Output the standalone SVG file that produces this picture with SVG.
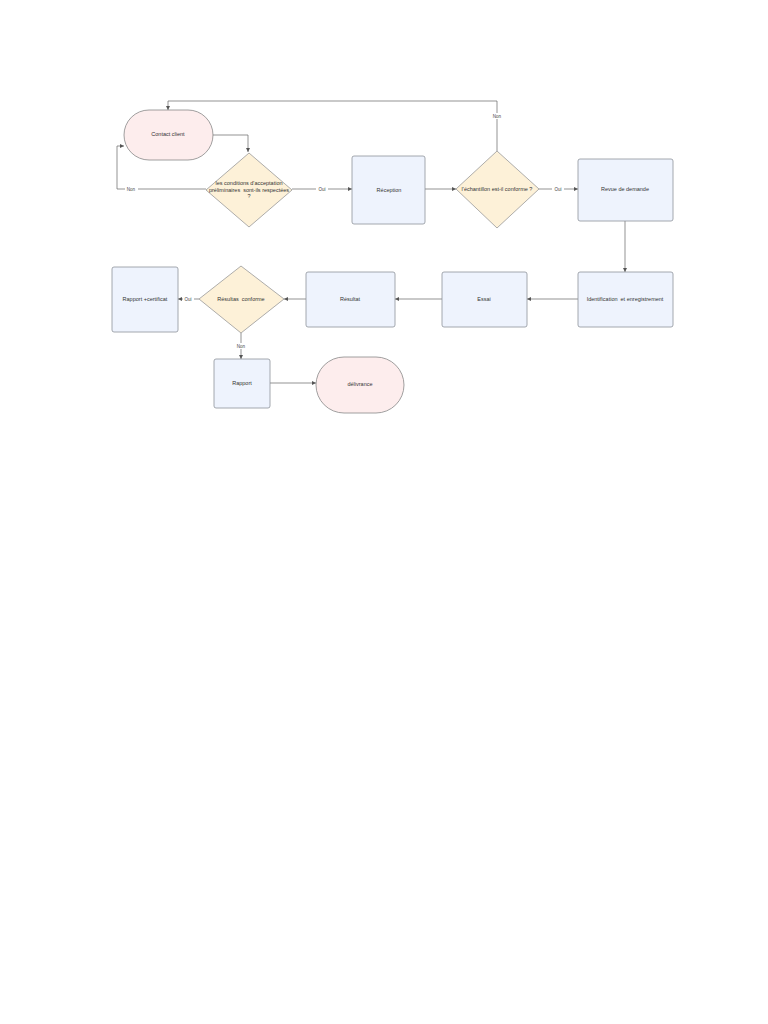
<svg xmlns="http://www.w3.org/2000/svg" width="768" height="1024" viewBox="0 0 768 1024">
<defs>
<marker id="arr" viewBox="0 0 6 6" refX="6" refY="3" markerWidth="4" markerHeight="4" orient="auto" markerUnits="userSpaceOnUse">
<path d="M0,0 L6,3 L0,6 z" fill="#555"/>
</marker>
<style>
.term{fill:#fdeded;stroke:#888;stroke-width:0.8}
.box{fill:#eef3fd;stroke:#8e939a;stroke-width:0.8}
.dia{fill:#fdf1d8;stroke:#999;stroke-width:0.8}
.t{font-family:"Liberation Sans",Arial,sans-serif;font-size:5.5px;fill:#333;text-anchor:middle;dominant-baseline:central;white-space:pre}
.lbl{font-family:"Liberation Sans",Arial,sans-serif;font-size:4.5px;fill:#444;text-anchor:middle;dominant-baseline:central}
.c{fill:none;stroke:#666;stroke-width:0.7}
.bg{fill:#fff}
</style>
</defs>
<rect width="768" height="1024" fill="#fff"/>
<g id="connectors">
<polyline class="c" points="497,151 497,101 168,101 168,110" marker-end="url(#arr)"/>
<rect class="bg" x="490" y="113" width="14" height="6"/>
<text class="lbl" x="497" y="116">Non</text>
<polyline class="c" points="212,135 248,135 248,152" marker-end="url(#arr)"/>
<polyline class="c" points="206,189 117,189 117,146 124,146" marker-end="url(#arr)"/>
<rect class="bg" x="125" y="186" width="13" height="6"/>
<text class="lbl" x="131" y="189">Non</text>
<line class="c" x1="292" y1="189" x2="352" y2="189" marker-end="url(#arr)"/>
<rect class="bg" x="316" y="186" width="12" height="6"/>
<text class="lbl" x="322" y="189">Oui</text>
<line class="c" x1="425" y1="189" x2="456" y2="189" marker-end="url(#arr)"/>
<line class="c" x1="539" y1="189" x2="578" y2="189" marker-end="url(#arr)"/>
<rect class="bg" x="552" y="186" width="12" height="6"/>
<text class="lbl" x="558" y="189">Oui</text>
<line class="c" x1="625" y1="221" x2="625" y2="272" marker-end="url(#arr)"/>
<line class="c" x1="578" y1="299" x2="527" y2="299" marker-end="url(#arr)"/>
<line class="c" x1="442" y1="299" x2="395" y2="299" marker-end="url(#arr)"/>
<line class="c" x1="306" y1="299" x2="284" y2="299" marker-end="url(#arr)"/>
<line class="c" x1="199" y1="299" x2="178" y2="299" marker-end="url(#arr)"/>
<rect class="bg" x="183" y="296" width="11" height="6"/>
<text class="lbl" x="188" y="299">Oui</text>
<line class="c" x1="241" y1="333" x2="241" y2="359" marker-end="url(#arr)"/>
<rect class="bg" x="235" y="343" width="13" height="6"/>
<text class="lbl" x="241" y="346">Non</text>
<line class="c" x1="270" y1="383" x2="316" y2="383" marker-end="url(#arr)"/>
</g>
<g id="contact">
<rect class="term" x="124" y="110" width="89" height="50" rx="25" ry="25"/>
<text class="t" x="168" y="134">Contact client</text>
</g>
<g id="cond">
<polygon class="dia" points="249,153 292,190 249,227 206,190"/>
<text class="t" x="249" y="183">les conditions d'acceptation</text>
<text class="t" x="249" y="189.5" font-size="5.2">préliminaires  sont-ils respectées</text>
<text class="t" x="249" y="196">?</text>
</g>
<g id="reception">
<rect class="box" x="352" y="156" width="73" height="68" rx="2"/>
<text class="t" x="389" y="190">Réception</text>
</g>
<g id="echantillon">
<polygon class="dia" points="497,151 539,189 497,228 456,189"/>
<text class="t" x="497" y="189">l'échantillon est-il conforme ?</text>
</g>
<g id="revue">
<rect class="box" x="578" y="159" width="95" height="62" rx="2"/>
<text class="t" x="625" y="189">Revue de demande</text>
</g>
<g id="identification">
<rect class="box" x="578" y="272" width="95" height="55" rx="2"/>
<text class="t" x="625" y="299">Identification  et enregistrement</text>
</g>
<g id="essai">
<rect class="box" x="442" y="272" width="85" height="55" rx="2"/>
<text class="t" x="484" y="299">Essai</text>
</g>
<g id="resultat">
<rect class="box" x="306" y="272" width="89" height="55" rx="2"/>
<text class="t" x="350" y="299">Résultat</text>
</g>
<g id="conforme">
<polygon class="dia" points="241,266 284,299 241,333 199,299"/>
<text class="t" x="241" y="299">Résultas  conforme</text>
</g>
<g id="rapportcert">
<rect class="box" x="112" y="267" width="66" height="65" rx="2"/>
<text class="t" x="145" y="299">Rapport +certificat</text>
</g>
<g id="rapport">
<rect class="box" x="214" y="359" width="56" height="49" rx="2"/>
<text class="t" x="242" y="383">Rapport</text>
</g>
<g id="delivrance">
<rect class="term" x="316" y="357" width="88" height="56" rx="28" ry="28"/>
<text class="t" x="360" y="384">délivrance</text>
</g>
</svg>
